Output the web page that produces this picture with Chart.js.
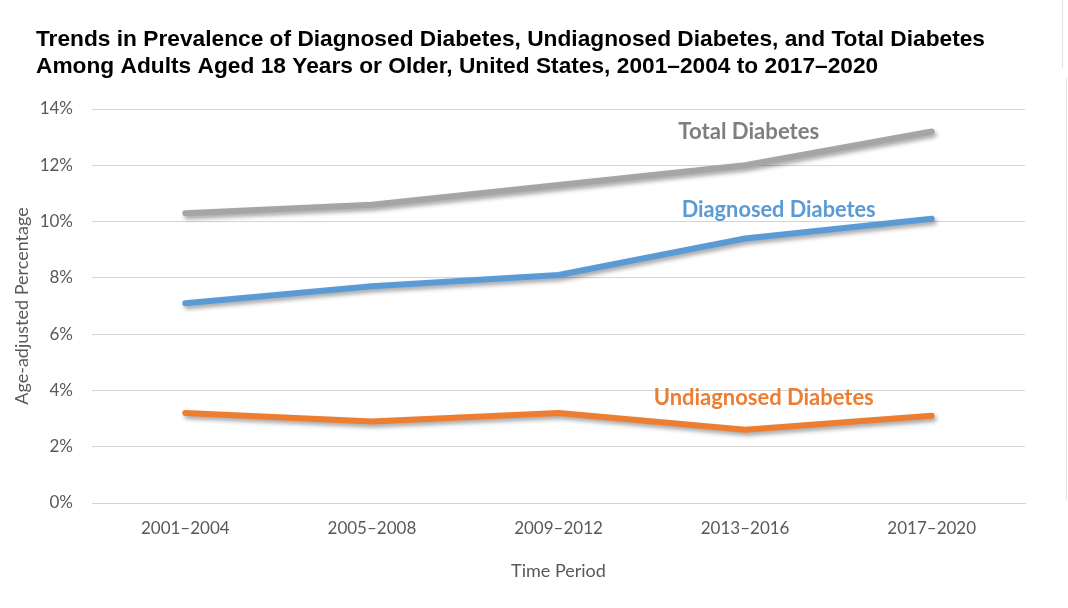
<!DOCTYPE html>
<html>
<head>
<meta charset="utf-8">
<script src="https://cdn.jsdelivr.net/npm/chart.js@4"></script>
<style>
  html, body { margin: 0; padding: 0; background: #fff; }
  #wrap { position: relative; width: 1068px; height: 608px; }
  .edge { position: absolute; width: 1px; background: #e2e2e2; }
</style>
</head>
<body>
<div id="wrap">
  <canvas id="chart" width="1068" height="608"></canvas>
  <div class="edge" style="left:1062px; top:0; height:68px;"></div>
  <div class="edge" style="left:1066px; top:78px; height:422px;"></div>
</div>
<script>
// data
const periods = ["2001–2004", "2005–2008", "2009–2012", "2013–2016", "2017–2020"];
const totalDiabetes = [10.3, 10.6, 11.3, 12.0, 13.2];
const diagnosedDiabetes = [7.1, 7.7, 8.1, 9.4, 10.1];
const undiagnosedDiabetes = [3.2, 2.9, 3.2, 2.6, 3.1];
const yTicks = [0, 2, 4, 6, 8, 10, 12, 14];

const titleLines = [
	"Trends in Prevalence of Diagnosed Diabetes, Undiagnosed Diabetes, and Total Diabetes",
	"Among Adults Aged 18 Years or Older, United States, 2001–2004 to 2017–2020"
];

const GRAY = "#a5a5a5";
const BLUE = "#5b9bd5";
const ORANGE = "#ed7d31";
const AXIS_FONT = "Lato, 'Open Sans', sans-serif";

// title drawn at the top left, fitted to the width seen in the picture
const titlePlugin = {
	id: "bigTitle",
	afterDraw(chart) {
		const ctx = chart.ctx;
		ctx.save();
		ctx.fillStyle = "#000";
		ctx.font = "bold 22px 'Liberation Sans', Arial, sans-serif";
		ctx.textBaseline = "alphabetic";
		let w = ctx.measureText(titleLines[0]).width;
		let sx = 949 / w;
		const baselines = [46, 73];
		titleLines.forEach((line, i) => {
			ctx.save();
			ctx.translate(36, baselines[i]);
			ctx.scale(sx, 1);
			ctx.fillText(line, 0, 0);
			ctx.restore();
		});
		ctx.restore();
	}
};

// series names written next to the lines, anchored on the scales
const seriesLabels = [
	{ text: "Total Diabetes", color: "#7f7f7f", at: 3.02, value: 13.18, width: 141 },
	{ text: "Diagnosed Diabetes", color: BLUE, at: 3.18, value: 10.42, width: 194 },
	{ text: "Undiagnosed Diabetes", color: ORANGE, at: 3.1, value: 3.75, width: 220 }
];

const labelPlugin = {
	id: "seriesLabels",
	afterDatasetsDraw(chart) {
		const ctx = chart.ctx;
		const xs = chart.scales.x;
		const ys = chart.scales.y;
		const step = xs.getPixelForValue(1) - xs.getPixelForValue(0);
		ctx.save();
		ctx.font = "bold 22px Lato, 'Open Sans', sans-serif";
		ctx.textAlign = "center";
		ctx.textBaseline = "middle";
		seriesLabels.forEach((l) => {
			const x = xs.getPixelForValue(0) + l.at * step;
			const y = ys.getPixelForValue(l.value);
			const w = ctx.measureText(l.text).width;
			ctx.save();
			ctx.translate(x, y);
			ctx.scale(l.width / w, 1);
			ctx.fillStyle = l.color;
			ctx.fillText(l.text, 0, 0);
			ctx.restore();
		});
		ctx.restore();
	}
};

// soft drop shadow under each line
const shadowPlugin = {
	id: "lineShadow",
	beforeDatasetDraw(chart) {
		const ctx = chart.ctx;
		ctx.save();
		ctx.shadowColor = "rgba(0,0,0,0.35)";
		ctx.shadowBlur = 4;
		ctx.shadowOffsetX = 2;
		ctx.shadowOffsetY = 3;
	},
	afterDatasetDraw(chart) {
		chart.ctx.restore();
	}
};

function lineSet(label, data, color) {
	return {
		label: label,
		data: data,
		borderColor: color,
		backgroundColor: color,
		borderWidth: 6,
		borderCapStyle: "round",
		borderJoinStyle: "round",
		pointRadius: 0,
		pointHoverRadius: 0,
		tension: 0,
		fill: false
	};
}

const ctx = document.getElementById("chart");
new Chart(ctx, {
	type: "line",
	data: {
		labels: periods,
		datasets: [
			lineSet("Total Diabetes", totalDiabetes, GRAY),
			lineSet("Diagnosed Diabetes", diagnosedDiabetes, BLUE),
			lineSet("Undiagnosed Diabetes", undiagnosedDiabetes, ORANGE)
		]
	},
	options: {
		responsive: false,
		animation: false,
		devicePixelRatio: 1,
		layout: { padding: { left: 0, right: 43, top: 109, bottom: 0 } },
		plugins: {
			legend: { display: false },
			title: { display: false },
			tooltip: { enabled: false }
		},
		scales: {
			x: {
				offset: true,
				grid: { display: false, drawTicks: false },
				border: { display: true, color: "#d4d4d4", width: 1 },
				ticks: {
					padding: 15,
					color: "#595959",
					font: { family: AXIS_FONT, size: 17 }
				},
				title: {
					display: true,
					text: "Time Period",
					color: "#595959",
					font: { family: AXIS_FONT, size: 18 },
					padding: { top: 0, bottom: 26 }
				},
				afterFit(scale) { scale.height = 105; }
			},
			y: {
				min: 0,
				max: 14,
				afterBuildTicks(scale) {
					scale.ticks = yTicks.map((v) => ({ value: v }));
				},
				grid: { color: "#d4d4d4", lineWidth: 1, drawTicks: false },
				border: { display: false },
				ticks: {
					padding: 19,
					color: "#595959",
					font: { family: AXIS_FONT, size: 17 },
					callback: (v) => v + "%"
				},
				title: {
					display: true,
					text: "Age-adjusted Percentage",
					color: "#595959",
					font: { family: AXIS_FONT, size: 18 },
					padding: { top: 11, bottom: 0 }
				},
				afterFit(scale) { scale.width = 92; }
			}
		}
	},
	plugins: [shadowPlugin, labelPlugin, titlePlugin]
});
</script>
</body>
</html>
